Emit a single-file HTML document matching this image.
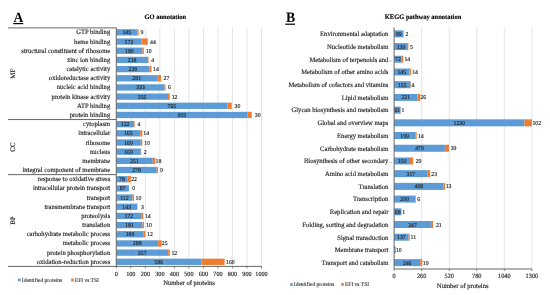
<!DOCTYPE html>
<html><head><meta charset="utf-8"><style>
html,body{margin:0;padding:0;background:#fff;width:550px;height:295px;overflow:hidden}
svg{display:block;will-change:transform}
text{font-family:"Liberation Serif",serif;text-rendering:geometricPrecision}
</style></head><body>
<svg width="550" height="295" viewBox="0 0 550 295">
<defs><filter id="b" x="0" y="0" width="550" height="295" filterUnits="userSpaceOnUse"><feGaussianBlur stdDeviation="0.35"/></filter></defs>
<rect width="550" height="295" fill="#fff"/>
<g filter="url(#b)">
<line x1="130.82" y1="27.80" x2="130.82" y2="266.40" stroke="#DEDEDE" stroke-width="0.8"/>
<line x1="145.34" y1="27.80" x2="145.34" y2="266.40" stroke="#DEDEDE" stroke-width="0.8"/>
<line x1="159.86" y1="27.80" x2="159.86" y2="266.40" stroke="#DEDEDE" stroke-width="0.8"/>
<line x1="174.38" y1="27.80" x2="174.38" y2="266.40" stroke="#DEDEDE" stroke-width="0.8"/>
<line x1="188.90" y1="27.80" x2="188.90" y2="266.40" stroke="#DEDEDE" stroke-width="0.8"/>
<line x1="203.42" y1="27.80" x2="203.42" y2="266.40" stroke="#DEDEDE" stroke-width="0.8"/>
<line x1="217.94" y1="27.80" x2="217.94" y2="266.40" stroke="#DEDEDE" stroke-width="0.8"/>
<line x1="232.46" y1="27.80" x2="232.46" y2="266.40" stroke="#DEDEDE" stroke-width="0.8"/>
<line x1="246.98" y1="27.80" x2="246.98" y2="266.40" stroke="#DEDEDE" stroke-width="0.8"/>
<line x1="261.50" y1="27.80" x2="261.50" y2="266.40" stroke="#DEDEDE" stroke-width="0.8"/>
<rect x="116.30" y="29.24" width="21.05" height="6.30" fill="#5B9BD5"/>
<rect x="137.35" y="29.24" width="1.31" height="6.30" fill="#ED7D31"/>
<text transform="translate(110.20,34.39) scale(0.9615,1)" font-size="6.864" text-anchor="end" fill="#202020" stroke="#202020" stroke-width="0.14" font-weight="normal" >GTP binding</text>
<text x="126.83" y="34.39" font-size="5.8" text-anchor="middle" fill="#262626" stroke="#262626" stroke-width="0.14" font-weight="normal" >145</text>
<text x="140.56" y="34.39" font-size="5.8" text-anchor="start" fill="#202020" stroke="#202020" stroke-width="0.14" font-weight="normal" >9</text>
<rect x="116.30" y="38.42" width="25.12" height="6.30" fill="#5B9BD5"/>
<rect x="141.42" y="38.42" width="6.39" height="6.30" fill="#ED7D31"/>
<text transform="translate(110.20,43.57) scale(0.9615,1)" font-size="6.864" text-anchor="end" fill="#202020" stroke="#202020" stroke-width="0.14" font-weight="normal" >heme binding</text>
<text x="128.86" y="43.57" font-size="5.8" text-anchor="middle" fill="#262626" stroke="#262626" stroke-width="0.14" font-weight="normal" >173</text>
<text x="150.01" y="43.57" font-size="5.8" text-anchor="start" fill="#202020" stroke="#202020" stroke-width="0.14" font-weight="normal" >44</text>
<rect x="116.30" y="47.59" width="26.14" height="6.30" fill="#5B9BD5"/>
<rect x="142.44" y="47.59" width="1.45" height="6.30" fill="#ED7D31"/>
<text transform="translate(110.20,52.74) scale(0.9615,1)" font-size="6.864" text-anchor="end" fill="#202020" stroke="#202020" stroke-width="0.14" font-weight="normal" >structural constituent of ribosome</text>
<text x="129.37" y="52.74" font-size="5.8" text-anchor="middle" fill="#262626" stroke="#262626" stroke-width="0.14" font-weight="normal" >180</text>
<text x="145.89" y="52.74" font-size="5.8" text-anchor="start" fill="#202020" stroke="#202020" stroke-width="0.14" font-weight="normal" >10</text>
<rect x="116.30" y="56.77" width="31.65" height="6.30" fill="#5B9BD5"/>
<rect x="147.95" y="56.77" width="0.58" height="6.30" fill="#ED7D31"/>
<text transform="translate(110.20,61.92) scale(0.9615,1)" font-size="6.864" text-anchor="end" fill="#202020" stroke="#202020" stroke-width="0.14" font-weight="normal" >zinc ion binding</text>
<text x="132.13" y="61.92" font-size="5.8" text-anchor="middle" fill="#262626" stroke="#262626" stroke-width="0.14" font-weight="normal" >218</text>
<text x="151.33" y="61.92" font-size="5.8" text-anchor="start" fill="#202020" stroke="#202020" stroke-width="0.14" font-weight="normal" >4</text>
<rect x="116.30" y="65.95" width="33.11" height="6.30" fill="#5B9BD5"/>
<rect x="149.41" y="65.95" width="2.03" height="6.30" fill="#ED7D31"/>
<text transform="translate(110.20,71.10) scale(0.9615,1)" font-size="6.864" text-anchor="end" fill="#202020" stroke="#202020" stroke-width="0.14" font-weight="normal" >catalytic activity</text>
<text x="132.85" y="71.10" font-size="5.8" text-anchor="middle" fill="#262626" stroke="#262626" stroke-width="0.14" font-weight="normal" >228</text>
<text x="153.04" y="71.10" font-size="5.8" text-anchor="start" fill="#202020" stroke="#202020" stroke-width="0.14" font-weight="normal" >14</text>
<rect x="116.30" y="75.12" width="40.80" height="6.30" fill="#5B9BD5"/>
<rect x="157.10" y="75.12" width="3.92" height="6.30" fill="#ED7D31"/>
<text transform="translate(110.20,80.27) scale(0.9615,1)" font-size="6.864" text-anchor="end" fill="#202020" stroke="#202020" stroke-width="0.14" font-weight="normal" >oxidoreductase activity</text>
<text x="136.70" y="80.27" font-size="5.8" text-anchor="middle" fill="#262626" stroke="#262626" stroke-width="0.14" font-weight="normal" >281</text>
<text x="163.62" y="80.27" font-size="5.8" text-anchor="start" fill="#202020" stroke="#202020" stroke-width="0.14" font-weight="normal" >27</text>
<rect x="116.30" y="84.30" width="48.35" height="6.30" fill="#5B9BD5"/>
<rect x="164.65" y="84.30" width="0.87" height="6.30" fill="#ED7D31"/>
<text transform="translate(110.20,89.45) scale(0.9615,1)" font-size="6.864" text-anchor="end" fill="#202020" stroke="#202020" stroke-width="0.14" font-weight="normal" >nucleic acid binding</text>
<text x="140.48" y="89.45" font-size="5.8" text-anchor="middle" fill="#262626" stroke="#262626" stroke-width="0.14" font-weight="normal" >333</text>
<text x="167.92" y="89.45" font-size="5.8" text-anchor="start" fill="#202020" stroke="#202020" stroke-width="0.14" font-weight="normal" >6</text>
<rect x="116.30" y="93.48" width="51.69" height="6.30" fill="#5B9BD5"/>
<rect x="167.99" y="93.48" width="1.74" height="6.30" fill="#ED7D31"/>
<text transform="translate(110.20,98.63) scale(0.9615,1)" font-size="6.864" text-anchor="end" fill="#202020" stroke="#202020" stroke-width="0.14" font-weight="normal" >protein kinase activity</text>
<text x="142.15" y="98.63" font-size="5.8" text-anchor="middle" fill="#262626" stroke="#262626" stroke-width="0.14" font-weight="normal" >356</text>
<text x="171.73" y="98.63" font-size="5.8" text-anchor="start" fill="#202020" stroke="#202020" stroke-width="0.14" font-weight="normal" >12</text>
<rect x="116.30" y="102.65" width="111.08" height="6.30" fill="#5B9BD5"/>
<rect x="227.38" y="102.65" width="4.36" height="6.30" fill="#ED7D31"/>
<text transform="translate(110.20,107.80) scale(0.9615,1)" font-size="6.864" text-anchor="end" fill="#202020" stroke="#202020" stroke-width="0.14" font-weight="normal" >ATP binding</text>
<text x="171.84" y="107.80" font-size="5.8" text-anchor="middle" fill="#262626" stroke="#262626" stroke-width="0.14" font-weight="normal" >765</text>
<text x="234.53" y="107.80" font-size="5.8" text-anchor="start" fill="#202020" stroke="#202020" stroke-width="0.14" font-weight="normal" >30</text>
<rect x="116.30" y="111.83" width="131.12" height="6.30" fill="#5B9BD5"/>
<rect x="247.42" y="111.83" width="4.36" height="6.30" fill="#ED7D31"/>
<text transform="translate(110.20,116.98) scale(0.9615,1)" font-size="6.864" text-anchor="end" fill="#202020" stroke="#202020" stroke-width="0.14" font-weight="normal" >protein binding</text>
<text x="181.86" y="116.98" font-size="5.8" text-anchor="middle" fill="#262626" stroke="#262626" stroke-width="0.14" font-weight="normal" >903</text>
<text x="254.77" y="116.98" font-size="5.8" text-anchor="start" fill="#202020" stroke="#202020" stroke-width="0.14" font-weight="normal" >30</text>
<rect x="116.30" y="121.01" width="17.71" height="6.30" fill="#5B9BD5"/>
<rect x="134.01" y="121.01" width="0.58" height="6.30" fill="#ED7D31"/>
<text transform="translate(110.20,126.16) scale(0.9615,1)" font-size="6.864" text-anchor="end" fill="#202020" stroke="#202020" stroke-width="0.14" font-weight="normal" >cytoplasm</text>
<text x="125.16" y="126.16" font-size="5.8" text-anchor="middle" fill="#262626" stroke="#262626" stroke-width="0.14" font-weight="normal" >122</text>
<text x="137.60" y="126.16" font-size="5.8" text-anchor="start" fill="#202020" stroke="#202020" stroke-width="0.14" font-weight="normal" >4</text>
<rect x="116.30" y="130.18" width="23.96" height="6.30" fill="#5B9BD5"/>
<rect x="140.26" y="130.18" width="2.03" height="6.30" fill="#ED7D31"/>
<text transform="translate(110.20,135.33) scale(0.9615,1)" font-size="6.864" text-anchor="end" fill="#202020" stroke="#202020" stroke-width="0.14" font-weight="normal" >intracellular</text>
<text x="128.28" y="135.33" font-size="5.8" text-anchor="middle" fill="#262626" stroke="#262626" stroke-width="0.14" font-weight="normal" >165</text>
<text x="143.29" y="135.33" font-size="5.8" text-anchor="start" fill="#202020" stroke="#202020" stroke-width="0.14" font-weight="normal" >14</text>
<rect x="116.30" y="139.36" width="24.54" height="6.30" fill="#5B9BD5"/>
<rect x="140.84" y="139.36" width="1.45" height="6.30" fill="#ED7D31"/>
<text transform="translate(110.20,144.51) scale(0.9615,1)" font-size="6.864" text-anchor="end" fill="#202020" stroke="#202020" stroke-width="0.14" font-weight="normal" >ribosome</text>
<text x="128.57" y="144.51" font-size="5.8" text-anchor="middle" fill="#262626" stroke="#262626" stroke-width="0.14" font-weight="normal" >169</text>
<text x="144.29" y="144.51" font-size="5.8" text-anchor="start" fill="#202020" stroke="#202020" stroke-width="0.14" font-weight="normal" >10</text>
<rect x="116.30" y="148.54" width="24.54" height="6.30" fill="#5B9BD5"/>
<rect x="140.84" y="148.54" width="0.29" height="6.30" fill="#ED7D31"/>
<text transform="translate(110.20,153.69) scale(0.9615,1)" font-size="6.864" text-anchor="end" fill="#202020" stroke="#202020" stroke-width="0.14" font-weight="normal" >nucleus</text>
<text x="128.57" y="153.69" font-size="5.8" text-anchor="middle" fill="#262626" stroke="#262626" stroke-width="0.14" font-weight="normal" >169</text>
<text x="143.73" y="153.69" font-size="5.8" text-anchor="start" fill="#202020" stroke="#202020" stroke-width="0.14" font-weight="normal" >2</text>
<rect x="116.30" y="157.72" width="36.45" height="6.30" fill="#5B9BD5"/>
<rect x="152.75" y="157.72" width="2.61" height="6.30" fill="#ED7D31"/>
<text transform="translate(110.20,162.87) scale(0.9615,1)" font-size="6.864" text-anchor="end" fill="#202020" stroke="#202020" stroke-width="0.14" font-weight="normal" >membrane</text>
<text x="134.52" y="162.87" font-size="5.8" text-anchor="middle" fill="#262626" stroke="#262626" stroke-width="0.14" font-weight="normal" >251</text>
<text x="155.56" y="162.87" font-size="5.8" text-anchor="start" fill="#202020" stroke="#202020" stroke-width="0.14" font-weight="normal" >18</text>
<rect x="116.30" y="166.89" width="40.37" height="6.30" fill="#5B9BD5"/>
<rect x="156.67" y="166.89" width="1.31" height="6.30" fill="#ED7D31"/>
<text transform="translate(110.20,172.04) scale(0.9615,1)" font-size="6.864" text-anchor="end" fill="#202020" stroke="#202020" stroke-width="0.14" font-weight="normal" >integral component of membrane</text>
<text x="136.48" y="172.04" font-size="5.8" text-anchor="middle" fill="#262626" stroke="#262626" stroke-width="0.14" font-weight="normal" >278</text>
<text x="159.97" y="172.04" font-size="5.8" text-anchor="start" fill="#202020" stroke="#202020" stroke-width="0.14" font-weight="normal" >9</text>
<rect x="116.30" y="176.07" width="11.33" height="6.30" fill="#5B9BD5"/>
<rect x="127.63" y="176.07" width="3.19" height="6.30" fill="#ED7D31"/>
<text transform="translate(110.20,181.22) scale(0.9615,1)" font-size="6.864" text-anchor="end" fill="#202020" stroke="#202020" stroke-width="0.14" font-weight="normal" >response to oxidative stress</text>
<text x="121.96" y="181.22" font-size="5.8" text-anchor="middle" fill="#262626" stroke="#262626" stroke-width="0.14" font-weight="normal" >78</text>
<text x="131.22" y="181.22" font-size="5.8" text-anchor="start" fill="#202020" stroke="#202020" stroke-width="0.14" font-weight="normal" >22</text>
<rect x="116.30" y="185.25" width="12.63" height="6.30" fill="#5B9BD5"/>
<text transform="translate(110.20,190.40) scale(0.9615,1)" font-size="6.864" text-anchor="end" fill="#202020" stroke="#202020" stroke-width="0.14" font-weight="normal" >intracellular protein transport</text>
<text x="122.62" y="190.40" font-size="5.8" text-anchor="middle" fill="#262626" stroke="#262626" stroke-width="0.14" font-weight="normal" >87</text>
<text x="132.33" y="190.40" font-size="5.8" text-anchor="start" fill="#202020" stroke="#202020" stroke-width="0.14" font-weight="normal" >0</text>
<rect x="116.30" y="194.42" width="16.26" height="6.30" fill="#5B9BD5"/>
<rect x="132.56" y="194.42" width="1.45" height="6.30" fill="#ED7D31"/>
<text transform="translate(110.20,199.57) scale(0.9615,1)" font-size="6.864" text-anchor="end" fill="#202020" stroke="#202020" stroke-width="0.14" font-weight="normal" >transport</text>
<text x="124.43" y="199.57" font-size="5.8" text-anchor="middle" fill="#262626" stroke="#262626" stroke-width="0.14" font-weight="normal" >112</text>
<text x="135.61" y="199.57" font-size="5.8" text-anchor="start" fill="#202020" stroke="#202020" stroke-width="0.14" font-weight="normal" >10</text>
<rect x="116.30" y="203.60" width="20.76" height="6.30" fill="#5B9BD5"/>
<rect x="137.06" y="203.60" width="0.44" height="6.30" fill="#ED7D31"/>
<text transform="translate(110.20,208.75) scale(0.9615,1)" font-size="6.864" text-anchor="end" fill="#202020" stroke="#202020" stroke-width="0.14" font-weight="normal" >transmembrane transport</text>
<text x="126.68" y="208.75" font-size="5.8" text-anchor="middle" fill="#262626" stroke="#262626" stroke-width="0.14" font-weight="normal" >143</text>
<text x="141.10" y="208.75" font-size="5.8" text-anchor="start" fill="#202020" stroke="#202020" stroke-width="0.14" font-weight="normal" >3</text>
<rect x="116.30" y="212.78" width="24.97" height="6.30" fill="#5B9BD5"/>
<rect x="141.27" y="212.78" width="2.03" height="6.30" fill="#ED7D31"/>
<text transform="translate(110.20,217.93) scale(0.9615,1)" font-size="6.864" text-anchor="end" fill="#202020" stroke="#202020" stroke-width="0.14" font-weight="normal" >proteolysis</text>
<text x="128.79" y="217.93" font-size="5.8" text-anchor="middle" fill="#262626" stroke="#262626" stroke-width="0.14" font-weight="normal" >172</text>
<text x="144.91" y="217.93" font-size="5.8" text-anchor="start" fill="#202020" stroke="#202020" stroke-width="0.14" font-weight="normal" >14</text>
<rect x="116.30" y="221.95" width="26.28" height="6.30" fill="#5B9BD5"/>
<rect x="142.58" y="221.95" width="1.45" height="6.30" fill="#ED7D31"/>
<text transform="translate(110.20,227.10) scale(0.9615,1)" font-size="6.864" text-anchor="end" fill="#202020" stroke="#202020" stroke-width="0.14" font-weight="normal" >translation</text>
<text x="129.44" y="227.10" font-size="5.8" text-anchor="middle" fill="#262626" stroke="#262626" stroke-width="0.14" font-weight="normal" >181</text>
<text x="146.03" y="227.10" font-size="5.8" text-anchor="start" fill="#202020" stroke="#202020" stroke-width="0.14" font-weight="normal" >10</text>
<rect x="116.30" y="231.13" width="27.44" height="6.30" fill="#5B9BD5"/>
<rect x="143.74" y="231.13" width="1.74" height="6.30" fill="#ED7D31"/>
<text transform="translate(110.20,236.28) scale(0.9615,1)" font-size="6.864" text-anchor="end" fill="#202020" stroke="#202020" stroke-width="0.14" font-weight="normal" >carbohydrate metabolic process</text>
<text x="130.02" y="236.28" font-size="5.8" text-anchor="middle" fill="#262626" stroke="#262626" stroke-width="0.14" font-weight="normal" >189</text>
<text x="147.09" y="236.28" font-size="5.8" text-anchor="start" fill="#202020" stroke="#202020" stroke-width="0.14" font-weight="normal" >12</text>
<rect x="116.30" y="240.31" width="41.82" height="6.30" fill="#5B9BD5"/>
<rect x="158.12" y="240.31" width="3.63" height="6.30" fill="#ED7D31"/>
<text transform="translate(110.20,245.46) scale(0.9615,1)" font-size="6.864" text-anchor="end" fill="#202020" stroke="#202020" stroke-width="0.14" font-weight="normal" >metabolic process</text>
<text x="137.21" y="245.46" font-size="5.8" text-anchor="middle" fill="#262626" stroke="#262626" stroke-width="0.14" font-weight="normal" >288</text>
<text x="161.75" y="245.46" font-size="5.8" text-anchor="start" fill="#202020" stroke="#202020" stroke-width="0.14" font-weight="normal" >25</text>
<rect x="116.30" y="249.48" width="51.84" height="6.30" fill="#5B9BD5"/>
<rect x="168.14" y="249.48" width="1.74" height="6.30" fill="#ED7D31"/>
<text transform="translate(110.20,254.63) scale(0.9615,1)" font-size="6.864" text-anchor="end" fill="#202020" stroke="#202020" stroke-width="0.14" font-weight="normal" >protein phosphorylation</text>
<text x="142.22" y="254.63" font-size="5.8" text-anchor="middle" fill="#262626" stroke="#262626" stroke-width="0.14" font-weight="normal" >357</text>
<text x="171.48" y="254.63" font-size="5.8" text-anchor="start" fill="#202020" stroke="#202020" stroke-width="0.14" font-weight="normal" >12</text>
<rect x="116.30" y="258.66" width="85.09" height="6.30" fill="#5B9BD5"/>
<rect x="201.39" y="258.66" width="23.23" height="6.30" fill="#ED7D31"/>
<text transform="translate(110.20,263.81) scale(0.9615,1)" font-size="6.864" text-anchor="end" fill="#202020" stroke="#202020" stroke-width="0.14" font-weight="normal" >oxidation-reduction process</text>
<text x="158.84" y="263.81" font-size="5.8" text-anchor="middle" fill="#262626" stroke="#262626" stroke-width="0.14" font-weight="normal" >586</text>
<text x="226.02" y="263.81" font-size="5.8" text-anchor="start" fill="#202020" stroke="#202020" stroke-width="0.14" font-weight="normal" >160</text>
<line x1="8.00" y1="27.90" x2="116.30" y2="27.90" stroke="#666666" stroke-width="1"/>
<line x1="8.00" y1="119.57" x2="116.30" y2="119.57" stroke="#666666" stroke-width="1"/>
<line x1="8.00" y1="174.63" x2="116.30" y2="174.63" stroke="#666666" stroke-width="1"/>
<line x1="8.00" y1="266.40" x2="261.50" y2="266.40" stroke="#666666" stroke-width="1"/>
<line x1="116.30" y1="27.80" x2="116.30" y2="266.40" stroke="#666666" stroke-width="1"/>
<line x1="116.30" y1="266.40" x2="116.30" y2="268.40" stroke="#666666" stroke-width="0.8"/>
<text transform="translate(116.30,275.60) scale(0.9615,1)" font-size="6.448" text-anchor="middle" fill="#202020" stroke="#202020" stroke-width="0.14" font-weight="normal" >0</text>
<line x1="130.82" y1="266.40" x2="130.82" y2="268.40" stroke="#666666" stroke-width="0.8"/>
<text transform="translate(130.82,275.60) scale(0.9615,1)" font-size="6.448" text-anchor="middle" fill="#202020" stroke="#202020" stroke-width="0.14" font-weight="normal" >100</text>
<line x1="145.34" y1="266.40" x2="145.34" y2="268.40" stroke="#666666" stroke-width="0.8"/>
<text transform="translate(145.34,275.60) scale(0.9615,1)" font-size="6.448" text-anchor="middle" fill="#202020" stroke="#202020" stroke-width="0.14" font-weight="normal" >200</text>
<line x1="159.86" y1="266.40" x2="159.86" y2="268.40" stroke="#666666" stroke-width="0.8"/>
<text transform="translate(159.86,275.60) scale(0.9615,1)" font-size="6.448" text-anchor="middle" fill="#202020" stroke="#202020" stroke-width="0.14" font-weight="normal" >300</text>
<line x1="174.38" y1="266.40" x2="174.38" y2="268.40" stroke="#666666" stroke-width="0.8"/>
<text transform="translate(174.38,275.60) scale(0.9615,1)" font-size="6.448" text-anchor="middle" fill="#202020" stroke="#202020" stroke-width="0.14" font-weight="normal" >400</text>
<line x1="188.90" y1="266.40" x2="188.90" y2="268.40" stroke="#666666" stroke-width="0.8"/>
<text transform="translate(188.90,275.60) scale(0.9615,1)" font-size="6.448" text-anchor="middle" fill="#202020" stroke="#202020" stroke-width="0.14" font-weight="normal" >500</text>
<line x1="203.42" y1="266.40" x2="203.42" y2="268.40" stroke="#666666" stroke-width="0.8"/>
<text transform="translate(203.42,275.60) scale(0.9615,1)" font-size="6.448" text-anchor="middle" fill="#202020" stroke="#202020" stroke-width="0.14" font-weight="normal" >600</text>
<line x1="217.94" y1="266.40" x2="217.94" y2="268.40" stroke="#666666" stroke-width="0.8"/>
<text transform="translate(217.94,275.60) scale(0.9615,1)" font-size="6.448" text-anchor="middle" fill="#202020" stroke="#202020" stroke-width="0.14" font-weight="normal" >700</text>
<line x1="232.46" y1="266.40" x2="232.46" y2="268.40" stroke="#666666" stroke-width="0.8"/>
<text transform="translate(232.46,275.60) scale(0.9615,1)" font-size="6.448" text-anchor="middle" fill="#202020" stroke="#202020" stroke-width="0.14" font-weight="normal" >800</text>
<line x1="246.98" y1="266.40" x2="246.98" y2="268.40" stroke="#666666" stroke-width="0.8"/>
<text transform="translate(246.98,275.60) scale(0.9615,1)" font-size="6.448" text-anchor="middle" fill="#202020" stroke="#202020" stroke-width="0.14" font-weight="normal" >900</text>
<line x1="261.50" y1="266.40" x2="261.50" y2="268.40" stroke="#666666" stroke-width="0.8"/>
<text transform="translate(261.50,275.60) scale(0.9615,1)" font-size="6.448" text-anchor="middle" fill="#202020" stroke="#202020" stroke-width="0.14" font-weight="normal" >1000</text>
<text x="0" y="0" font-size="6.9" text-anchor="middle" fill="#202020" stroke="#202020" stroke-width="0.12" transform="translate(14.6,73.68) rotate(-90)">MF</text>
<text x="0" y="0" font-size="6.9" text-anchor="middle" fill="#202020" stroke="#202020" stroke-width="0.12" transform="translate(14.6,147.10) rotate(-90)">CC</text>
<text x="0" y="0" font-size="6.9" text-anchor="middle" fill="#202020" stroke="#202020" stroke-width="0.12" transform="translate(14.6,220.52) rotate(-90)">BP</text>
<text transform="translate(189.00,284.60) scale(0.9615,1)" font-size="6.864" text-anchor="middle" fill="#202020" stroke="#202020" stroke-width="0.14" font-weight="normal" >Number of proteins</text>
<rect x="18.00" y="278.60" width="2.60" height="2.80" fill="#5B9BD5"/>
<text transform="translate(21.80,282.20) scale(0.9615,1)" font-size="5.720" text-anchor="start" fill="#303030" stroke="#303030" stroke-width="0.12" font-weight="normal" >Identified proteins</text>
<rect x="71.20" y="278.60" width="2.60" height="2.80" fill="#ED7D31"/>
<text transform="translate(74.80,282.20) scale(0.9615,1)" font-size="5.720" text-anchor="start" fill="#303030" stroke="#303030" stroke-width="0.12" font-weight="normal" >EFI vs TSI</text>
<text transform="translate(13.60,21.50) scale(0.9615,1)" font-size="14.144" text-anchor="start" fill="#000" stroke="#000" stroke-width="0" font-weight="bold" >A</text>
<rect x="13.20" y="23.00" width="10.00" height="1.20" fill="#000"/>
<text transform="translate(144.50,18.70) scale(0.9615,1)" font-size="6.760" text-anchor="start" fill="#000" stroke="#000" stroke-width="0.14" font-weight="bold" >GO annotation</text>
<line x1="421.66" y1="27.50" x2="421.66" y2="269.00" stroke="#DEDEDE" stroke-width="0.8"/>
<line x1="449.22" y1="27.50" x2="449.22" y2="269.00" stroke="#DEDEDE" stroke-width="0.8"/>
<line x1="476.78" y1="27.50" x2="476.78" y2="269.00" stroke="#DEDEDE" stroke-width="0.8"/>
<line x1="504.34" y1="27.50" x2="504.34" y2="269.00" stroke="#DEDEDE" stroke-width="0.8"/>
<line x1="531.90" y1="27.50" x2="531.90" y2="269.00" stroke="#DEDEDE" stroke-width="0.8"/>
<rect x="394.10" y="30.36" width="9.43" height="7.00" fill="#5B9BD5"/>
<rect x="403.53" y="30.36" width="0.21" height="7.00" fill="#ED7D31"/>
<text transform="translate(388.40,36.16) scale(0.9615,1)" font-size="6.864" text-anchor="end" fill="#202020" stroke="#202020" stroke-width="0.14" font-weight="normal" >Environmental adaptation</text>
<text x="398.82" y="35.86" font-size="5.8" text-anchor="middle" fill="#262626" stroke="#262626" stroke-width="0.14" font-weight="normal" >89</text>
<text x="405.55" y="35.86" font-size="5.8" text-anchor="start" fill="#202020" stroke="#202020" stroke-width="0.14" font-weight="normal" >2</text>
<rect x="394.10" y="43.07" width="13.78" height="7.00" fill="#5B9BD5"/>
<rect x="407.88" y="43.07" width="0.53" height="7.00" fill="#ED7D31"/>
<text transform="translate(388.40,48.87) scale(0.9615,1)" font-size="6.864" text-anchor="end" fill="#202020" stroke="#202020" stroke-width="0.14" font-weight="normal" >Nucleotide metabolism</text>
<text x="400.99" y="48.57" font-size="5.8" text-anchor="middle" fill="#262626" stroke="#262626" stroke-width="0.14" font-weight="normal" >130</text>
<text x="410.01" y="48.57" font-size="5.8" text-anchor="start" fill="#202020" stroke="#202020" stroke-width="0.14" font-weight="normal" >5</text>
<rect x="394.10" y="55.78" width="7.63" height="7.00" fill="#5B9BD5"/>
<rect x="401.73" y="55.78" width="1.48" height="7.00" fill="#ED7D31"/>
<text transform="translate(388.40,61.58) scale(0.9615,1)" font-size="6.864" text-anchor="end" fill="#202020" stroke="#202020" stroke-width="0.14" font-weight="normal" >Metabolism of terpenoids and</text>
<rect x="388.90" y="60.68" width="0.6" height="0.6" fill="#666"/>
<rect x="390.20" y="60.68" width="0.6" height="0.6" fill="#666"/>
<rect x="391.50" y="60.68" width="0.6" height="0.6" fill="#666"/>
<text x="397.92" y="61.28" font-size="5.8" text-anchor="middle" fill="#262626" stroke="#262626" stroke-width="0.14" font-weight="normal" >72</text>
<text x="404.42" y="61.28" font-size="5.8" text-anchor="start" fill="#202020" stroke="#202020" stroke-width="0.14" font-weight="normal" >14</text>
<rect x="394.10" y="68.49" width="15.37" height="7.00" fill="#5B9BD5"/>
<rect x="409.47" y="68.49" width="1.48" height="7.00" fill="#ED7D31"/>
<text transform="translate(388.40,74.29) scale(0.9615,1)" font-size="6.864" text-anchor="end" fill="#202020" stroke="#202020" stroke-width="0.14" font-weight="normal" >Metabolism of other amino acids</text>
<text x="401.79" y="73.99" font-size="5.8" text-anchor="middle" fill="#262626" stroke="#262626" stroke-width="0.14" font-weight="normal" >145</text>
<text x="412.15" y="73.99" font-size="5.8" text-anchor="start" fill="#202020" stroke="#202020" stroke-width="0.14" font-weight="normal" >14</text>
<rect x="394.10" y="81.20" width="16.43" height="7.00" fill="#5B9BD5"/>
<rect x="410.53" y="81.20" width="0.42" height="7.00" fill="#ED7D31"/>
<text transform="translate(388.40,87.00) scale(0.9615,1)" font-size="6.864" text-anchor="end" fill="#202020" stroke="#202020" stroke-width="0.14" font-weight="normal" >Metabolism of cofactors and vitamins</text>
<text x="402.31" y="86.70" font-size="5.8" text-anchor="middle" fill="#262626" stroke="#262626" stroke-width="0.14" font-weight="normal" >155</text>
<text x="411.45" y="86.70" font-size="5.8" text-anchor="start" fill="#202020" stroke="#202020" stroke-width="0.14" font-weight="normal" >4</text>
<rect x="394.10" y="93.91" width="23.43" height="7.00" fill="#5B9BD5"/>
<rect x="417.53" y="93.91" width="2.76" height="7.00" fill="#ED7D31"/>
<text transform="translate(388.40,99.71) scale(0.9615,1)" font-size="6.864" text-anchor="end" fill="#202020" stroke="#202020" stroke-width="0.14" font-weight="normal" >Lipid metabolism</text>
<text x="405.81" y="99.41" font-size="5.8" text-anchor="middle" fill="#262626" stroke="#262626" stroke-width="0.14" font-weight="normal" >221</text>
<text x="420.48" y="99.41" font-size="5.8" text-anchor="start" fill="#202020" stroke="#202020" stroke-width="0.14" font-weight="normal" >26</text>
<rect x="394.10" y="106.62" width="6.47" height="7.00" fill="#5B9BD5"/>
<rect x="400.57" y="106.62" width="0.11" height="7.00" fill="#ED7D31"/>
<text transform="translate(388.40,112.42) scale(0.9615,1)" font-size="6.864" text-anchor="end" fill="#202020" stroke="#202020" stroke-width="0.14" font-weight="normal" >Glycan biosynthesis and metabolism</text>
<text x="397.33" y="112.12" font-size="5.8" text-anchor="middle" fill="#262626" stroke="#262626" stroke-width="0.14" font-weight="normal" >61</text>
<text x="401.47" y="112.12" font-size="5.8" text-anchor="start" fill="#202020" stroke="#202020" stroke-width="0.14" font-weight="normal" >1</text>
<rect x="394.10" y="119.33" width="130.38" height="7.00" fill="#5B9BD5"/>
<rect x="524.48" y="119.33" width="7.42" height="7.00" fill="#ED7D31"/>
<text transform="translate(388.40,125.13) scale(0.9615,1)" font-size="6.864" text-anchor="end" fill="#202020" stroke="#202020" stroke-width="0.14" font-weight="normal" >Global and overview maps</text>
<text x="459.29" y="124.83" font-size="5.8" text-anchor="middle" fill="#262626" stroke="#262626" stroke-width="0.14" font-weight="normal" >1230</text>
<text x="532.40" y="124.83" font-size="5.8" text-anchor="start" fill="#202020" stroke="#202020" stroke-width="0.14" font-weight="normal" >102</text>
<rect x="394.10" y="132.04" width="21.09" height="7.00" fill="#5B9BD5"/>
<rect x="415.19" y="132.04" width="1.48" height="7.00" fill="#ED7D31"/>
<text transform="translate(388.40,137.84) scale(0.9615,1)" font-size="6.864" text-anchor="end" fill="#202020" stroke="#202020" stroke-width="0.14" font-weight="normal" >Energy metabolism</text>
<text x="404.65" y="137.54" font-size="5.8" text-anchor="middle" fill="#262626" stroke="#262626" stroke-width="0.14" font-weight="normal" >199</text>
<text x="417.88" y="137.54" font-size="5.8" text-anchor="start" fill="#202020" stroke="#202020" stroke-width="0.14" font-weight="normal" >14</text>
<rect x="394.10" y="144.75" width="50.77" height="7.00" fill="#5B9BD5"/>
<rect x="444.87" y="144.75" width="4.13" height="7.00" fill="#ED7D31"/>
<text transform="translate(388.40,150.55) scale(0.9615,1)" font-size="6.864" text-anchor="end" fill="#202020" stroke="#202020" stroke-width="0.14" font-weight="normal" >Carbohydrate metabolism</text>
<text x="419.49" y="150.25" font-size="5.8" text-anchor="middle" fill="#262626" stroke="#262626" stroke-width="0.14" font-weight="normal" >479</text>
<text x="450.71" y="150.25" font-size="5.8" text-anchor="start" fill="#202020" stroke="#202020" stroke-width="0.14" font-weight="normal" >39</text>
<rect x="394.10" y="157.46" width="15.90" height="7.00" fill="#5B9BD5"/>
<rect x="410.00" y="157.46" width="3.07" height="7.00" fill="#ED7D31"/>
<text transform="translate(388.40,163.26) scale(0.9615,1)" font-size="6.864" text-anchor="end" fill="#202020" stroke="#202020" stroke-width="0.14" font-weight="normal" >Biosynthesis of other secondary</text>
<rect x="388.90" y="162.36" width="0.6" height="0.6" fill="#666"/>
<rect x="390.20" y="162.36" width="0.6" height="0.6" fill="#666"/>
<rect x="391.50" y="162.36" width="0.6" height="0.6" fill="#666"/>
<text x="402.05" y="162.96" font-size="5.8" text-anchor="middle" fill="#262626" stroke="#262626" stroke-width="0.14" font-weight="normal" >150</text>
<text x="415.67" y="162.96" font-size="5.8" text-anchor="start" fill="#202020" stroke="#202020" stroke-width="0.14" font-weight="normal" >29</text>
<rect x="394.10" y="170.17" width="33.60" height="7.00" fill="#5B9BD5"/>
<rect x="427.70" y="170.17" width="2.44" height="7.00" fill="#ED7D31"/>
<text transform="translate(388.40,175.97) scale(0.9615,1)" font-size="6.864" text-anchor="end" fill="#202020" stroke="#202020" stroke-width="0.14" font-weight="normal" >Amino acid metabolism</text>
<text x="410.90" y="175.67" font-size="5.8" text-anchor="middle" fill="#262626" stroke="#262626" stroke-width="0.14" font-weight="normal" >317</text>
<text x="431.34" y="175.67" font-size="5.8" text-anchor="start" fill="#202020" stroke="#202020" stroke-width="0.14" font-weight="normal" >23</text>
<rect x="394.10" y="182.88" width="49.61" height="7.00" fill="#5B9BD5"/>
<rect x="443.71" y="182.88" width="1.38" height="7.00" fill="#ED7D31"/>
<text transform="translate(388.40,188.68) scale(0.9615,1)" font-size="6.864" text-anchor="end" fill="#202020" stroke="#202020" stroke-width="0.14" font-weight="normal" >Translation</text>
<text x="418.90" y="188.38" font-size="5.8" text-anchor="middle" fill="#262626" stroke="#262626" stroke-width="0.14" font-weight="normal" >468</text>
<text x="445.69" y="188.38" font-size="5.8" text-anchor="start" fill="#202020" stroke="#202020" stroke-width="0.14" font-weight="normal" >13</text>
<rect x="394.10" y="195.59" width="21.20" height="7.00" fill="#5B9BD5"/>
<rect x="415.30" y="195.59" width="0.64" height="7.00" fill="#ED7D31"/>
<text transform="translate(388.40,201.39) scale(0.9615,1)" font-size="6.864" text-anchor="end" fill="#202020" stroke="#202020" stroke-width="0.14" font-weight="normal" >Transcription</text>
<text x="404.70" y="201.09" font-size="5.8" text-anchor="middle" fill="#262626" stroke="#262626" stroke-width="0.14" font-weight="normal" >200</text>
<text x="417.14" y="201.09" font-size="5.8" text-anchor="start" fill="#202020" stroke="#202020" stroke-width="0.14" font-weight="normal" >6</text>
<rect x="394.10" y="208.30" width="7.21" height="7.00" fill="#5B9BD5"/>
<rect x="401.31" y="208.30" width="0.11" height="7.00" fill="#ED7D31"/>
<text transform="translate(388.40,214.10) scale(0.9615,1)" font-size="6.864" text-anchor="end" fill="#202020" stroke="#202020" stroke-width="0.14" font-weight="normal" >Replication and repair</text>
<text x="397.70" y="213.80" font-size="5.8" text-anchor="middle" fill="#262626" stroke="#262626" stroke-width="0.14" font-weight="normal" >68</text>
<text x="402.21" y="213.80" font-size="5.8" text-anchor="start" fill="#202020" stroke="#202020" stroke-width="0.14" font-weight="normal" >1</text>
<rect x="394.10" y="221.01" width="36.78" height="7.00" fill="#5B9BD5"/>
<rect x="430.88" y="221.01" width="2.23" height="7.00" fill="#ED7D31"/>
<text transform="translate(388.40,226.81) scale(0.9615,1)" font-size="6.864" text-anchor="end" fill="#202020" stroke="#202020" stroke-width="0.14" font-weight="normal" >Folding, sorting and degradation</text>
<text x="412.49" y="226.51" font-size="5.8" text-anchor="middle" fill="#262626" stroke="#262626" stroke-width="0.14" font-weight="normal" >347</text>
<text x="435.91" y="226.51" font-size="5.8" text-anchor="start" fill="#202020" stroke="#202020" stroke-width="0.14" font-weight="normal" >21</text>
<rect x="394.10" y="233.72" width="14.52" height="7.00" fill="#5B9BD5"/>
<rect x="408.62" y="233.72" width="1.17" height="7.00" fill="#ED7D31"/>
<text transform="translate(388.40,239.52) scale(0.9615,1)" font-size="6.864" text-anchor="end" fill="#202020" stroke="#202020" stroke-width="0.14" font-weight="normal" >Signal transduction</text>
<text x="401.36" y="239.22" font-size="5.8" text-anchor="middle" fill="#262626" stroke="#262626" stroke-width="0.14" font-weight="normal" >137</text>
<text x="410.59" y="239.22" font-size="5.8" text-anchor="start" fill="#202020" stroke="#202020" stroke-width="0.14" font-weight="normal" >11</text>
<rect x="394.10" y="246.43" width="1.60" height="7.00" fill="#5B9BD5"/>
<text transform="translate(388.40,252.23) scale(0.9615,1)" font-size="6.864" text-anchor="end" fill="#202020" stroke="#202020" stroke-width="0.14" font-weight="normal" >Membrane transport</text>
<text x="395.96" y="251.93" font-size="5.8" text-anchor="start" fill="#202020" stroke="#202020" stroke-width="0.14" font-weight="normal" >10</text>
<rect x="394.10" y="259.14" width="26.08" height="7.00" fill="#5B9BD5"/>
<rect x="420.18" y="259.14" width="2.01" height="7.00" fill="#ED7D31"/>
<text transform="translate(388.40,264.94) scale(0.9615,1)" font-size="6.864" text-anchor="end" fill="#202020" stroke="#202020" stroke-width="0.14" font-weight="normal" >Transport and catabolism</text>
<text x="407.14" y="264.64" font-size="5.8" text-anchor="middle" fill="#262626" stroke="#262626" stroke-width="0.14" font-weight="normal" >246</text>
<text x="422.79" y="264.64" font-size="5.8" text-anchor="start" fill="#202020" stroke="#202020" stroke-width="0.14" font-weight="normal" >19</text>
<line x1="394.10" y1="27.50" x2="394.10" y2="269.00" stroke="#666666" stroke-width="1"/>
<line x1="394.10" y1="269.00" x2="531.90" y2="269.00" stroke="#666666" stroke-width="1"/>
<line x1="394.10" y1="269.00" x2="394.10" y2="271.00" stroke="#666666" stroke-width="0.8"/>
<text transform="translate(394.10,278.40) scale(0.9615,1)" font-size="6.552" text-anchor="middle" fill="#202020" stroke="#202020" stroke-width="0.14" font-weight="normal" >0</text>
<line x1="421.66" y1="269.00" x2="421.66" y2="271.00" stroke="#666666" stroke-width="0.8"/>
<text transform="translate(421.66,278.40) scale(0.9615,1)" font-size="6.552" text-anchor="middle" fill="#202020" stroke="#202020" stroke-width="0.14" font-weight="normal" >260</text>
<line x1="449.22" y1="269.00" x2="449.22" y2="271.00" stroke="#666666" stroke-width="0.8"/>
<text transform="translate(449.22,278.40) scale(0.9615,1)" font-size="6.552" text-anchor="middle" fill="#202020" stroke="#202020" stroke-width="0.14" font-weight="normal" >520</text>
<line x1="476.78" y1="269.00" x2="476.78" y2="271.00" stroke="#666666" stroke-width="0.8"/>
<text transform="translate(476.78,278.40) scale(0.9615,1)" font-size="6.552" text-anchor="middle" fill="#202020" stroke="#202020" stroke-width="0.14" font-weight="normal" >780</text>
<line x1="504.34" y1="269.00" x2="504.34" y2="271.00" stroke="#666666" stroke-width="0.8"/>
<text transform="translate(504.34,278.40) scale(0.9615,1)" font-size="6.552" text-anchor="middle" fill="#202020" stroke="#202020" stroke-width="0.14" font-weight="normal" >1040</text>
<line x1="531.90" y1="269.00" x2="531.90" y2="271.00" stroke="#666666" stroke-width="0.8"/>
<text transform="translate(531.90,278.40) scale(0.9615,1)" font-size="6.552" text-anchor="middle" fill="#202020" stroke="#202020" stroke-width="0.14" font-weight="normal" >1300</text>
<text transform="translate(462.70,287.60) scale(0.9615,1)" font-size="6.864" text-anchor="middle" fill="#202020" stroke="#202020" stroke-width="0.14" font-weight="normal" >Number of proteins</text>
<rect x="290.20" y="283.20" width="2.60" height="2.80" fill="#5B9BD5"/>
<text transform="translate(293.80,286.40) scale(0.9615,1)" font-size="5.720" text-anchor="start" fill="#303030" stroke="#303030" stroke-width="0.12" font-weight="normal" >Identified proteins</text>
<rect x="341.20" y="283.00" width="2.60" height="2.80" fill="#ED7D31"/>
<text transform="translate(345.00,286.40) scale(0.9615,1)" font-size="5.720" text-anchor="start" fill="#303030" stroke="#303030" stroke-width="0.12" font-weight="normal" >EFI vs TSI</text>
<text transform="translate(285.90,21.70) scale(0.9615,1)" font-size="14.352" text-anchor="start" fill="#000" stroke="#000" stroke-width="0" font-weight="bold" >B</text>
<rect x="285.20" y="23.60" width="9.80" height="1.20" fill="#000"/>
<text transform="translate(384.80,19.40) scale(0.9615,1)" font-size="6.760" text-anchor="start" fill="#000" stroke="#000" stroke-width="0.14" font-weight="bold" >KEGG pathway annotation</text>
</g>
</svg></body></html>
